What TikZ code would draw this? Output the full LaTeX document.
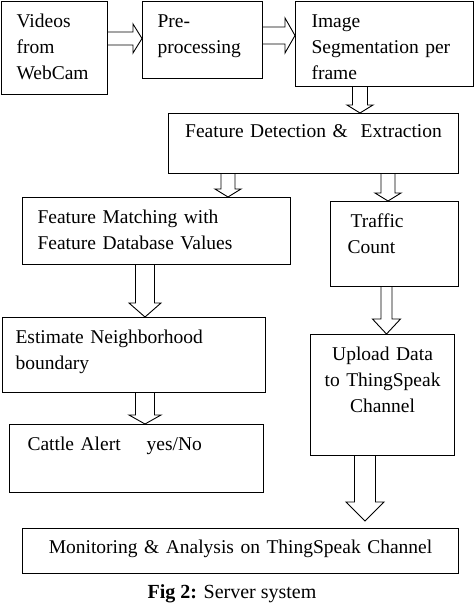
\documentclass[tikz,border=0pt]{standalone}
\usepackage{fontspec}
\setmainfont{Liberation Serif}
\usetikzlibrary{positioning,calc}
\newcommand{\boxfont}{\fontsize{19.5}{26}\selectfont}
\newcommand{\downblock}[6]{%
  \draw[block] let \p1=(#2), \p2=(#3) in
    (#1pt-#4pt,\y1) -- (#1pt-#4pt,\y2+#6pt) -- (#1pt-#5pt,\y2+#6pt) -- (#1pt,\y2)
    -- (#1pt+#5pt,\y2+#6pt) -- (#1pt+#4pt,\y2+#6pt) -- (#1pt+#4pt,\y1);}
\newcommand{\rightblock}[6]{%
  \draw[block] let \p1=(#2), \p2=(#3) in
    (\x1,-#1pt+#4pt) -- (\x2-#6pt,-#1pt+#4pt) -- (\x2-#6pt,-#1pt+#5pt) -- (\x2,-#1pt)
    -- (\x2-#6pt,-#1pt-#5pt) -- (\x2-#6pt,-#1pt-#4pt) -- (\x1,-#1pt-#4pt);}
\begin{document}
\begin{tikzpicture}[x=1pt,y=-1pt]
		\tikzstyle{box}=[draw, rectangle, line width=1.1pt, inner sep=0pt, anchor=north west, align=left, text height=14pt, font=\boxfont]
		\tikzstyle{block}=[draw, fill=white, line width=0.9pt, line join=miter]
		\useasboundingbox (0,0) rectangle (474,603);
		\node[box, minimum width=106pt, minimum height=93pt, text width=76pt, text depth=55pt] (videos) at (1,1) {Videos\\from\\WebCam};
		\node[box, minimum width=120pt, minimum height=77pt, text width=90pt, text depth=39pt] (prep) at (142,1) {Pre-\\processing};
		\node[box, minimum width=178pt, minimum height=85pt, text width=146pt, text depth=47pt] (seg) at (295,1) {Image\\Segmentation per\\frame};
		\node[box, align=center, minimum width=290pt, minimum height=60pt, text width=270pt, text depth=26pt] (fde) at (168,113) {Feature Detection \&\ \ Extraction};
		\node[box, minimum width=268pt, minimum height=67pt, text width=238pt, text depth=29pt] (match) at (22,197) {Feature Matching with\\Feature Database Values};
		\node[box, minimum width=128pt, minimum height=85pt, text width=94pt, text depth=47pt] (traffic) at (330,201) {\hspace*{3pt}Traffic\\Count};
		\node[box, minimum width=263pt, minimum height=75pt, text width=237pt, text depth=37pt] (estimate) at (2,317) {Estimate Neighborhood\\boundary};
		\node[box, align=center, minimum width=144pt, minimum height=121pt, text width=130pt, text depth=83pt] (upload) at (310,334) {Upload Data\\to ThingSpeak\\Channel};
		\node[box, minimum width=254pt, minimum height=68pt, text width=218pt, text depth=30pt] (cattle) at (9,424) {Cattle Alert~~~~yes/No};
		\node[box, align=center, minimum width=436pt, minimum height=45pt, text width=420pt, text depth=9pt] (monitor) at (22,528) {Monitoring \& Analysis on ThingSpeak Channel};
		\node[anchor=base, inner sep=0pt, font=\fontsize{20}{24}\selectfont] (caption) at (232,598) {\textbf{Fig 2:} Server system};
		\coordinate (montip) at ($(monitor.north)+(0,-7)$);
		\rightblock{38.5}{videos.east}{prep.west}{6.5}{14.5}{9}
		\rightblock{35.5}{prep.east}{seg.west}{8.5}{17.5}{10}
		\downblock{360}{seg.south}{fde.north}{7.5}{13}{8}
		\downblock{228}{fde.south}{match.north}{7}{13}{8}
		\downblock{388}{fde.south}{traffic.north}{7}{13}{8}
		\downblock{145}{match.south}{estimate.north}{9.5}{16}{14}
		\downblock{386.5}{traffic.south}{upload.north}{5.5}{14}{15}
		\downblock{145}{estimate.south}{cattle.north}{9.5}{16}{9}
		\downblock{365}{upload.south}{montip}{10.5}{19}{19}
\end{tikzpicture}
\end{document}
